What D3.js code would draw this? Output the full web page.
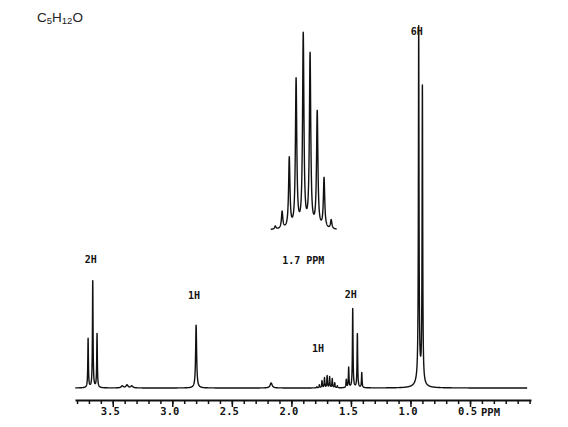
<!DOCTYPE html>
<html>
<head>
<meta charset="utf-8">
<script src="https://cdn.jsdelivr.net/npm/d3@7"></script>
<style>
  body { margin: 0; background: #fff; }
  svg { display: block; }
  .tag { font-family: "DejaVu Sans Mono", monospace; font-weight: bold; font-size: 10px; fill: #111; }
</style>
</head>
<body>
<svg id="chart" width="568" height="427"></svg>
<script>
// peak list: shift (ppm), height above baseline, half width (ppm)
const peakPpm    = [3.707, 3.668, 3.632, 3.42, 3.38, 3.34, 2.80, 2.17,
                    1.786, 1.765, 1.743, 1.722, 1.700, 1.679, 1.657, 1.636, 1.614,
                    1.539, 1.519, 1.485, 1.446, 1.409, 0.931, 0.900, 0.925];
const peakHeight = [49, 107, 54, 2, 3, 2, 63, 5,
                    1, 3, 7, 10, 12, 11, 9, 5, 2,
                    8, 20, 79, 54, 15, 350, 296, 10];
const peakWidth  = [0.003, 0.003, 0.003, 0.01, 0.01, 0.01, 0.005, 0.01,
                    0.003, 0.003, 0.003, 0.003, 0.003, 0.003, 0.003, 0.003, 0.003,
                    0.003, 0.003, 0.003, 0.003, 0.003, 0.003, 0.003, 0.025];

// expanded 1.7 ppm multiplet (inset)
const insetPpm    = [1.786, 1.765, 1.743, 1.722, 1.700, 1.679, 1.657, 1.636, 1.614];
const insetHeight = [3, 17, 70, 148, 193, 173, 116, 50, 9];
const insetWidth  = 0.0025;

// integration labels
const labelText  = ["2H", "1H", "1H", "2H", "6H"];
const labelPpm   = [3.668, 2.80, 1.76, 1.485, 0.931];
const labelLevel = [125, 89, 36, 90, 353];

// axis ticks
const majorTicks  = [3.5, 3.0, 2.5, 2.0, 1.5, 1.0, 0.5];
const majorLabels = ["3.5", "3.0", "2.5", "2.0", "1.5", "1.0", "0.5"];
const minorTicks  = d3.range(0, 39).map(i => i / 10);

const svg = d3.select("#chart");

const x = d3.scaleLinear().domain([3.817, -0.012]).range([75, 531]);
const y = d3.scaleLinear().domain([0, 360]).range([388, 28]);

const xIn = d3.scaleLinear().domain([1.79, 1.59]).range([274, 339]);
const yIn = d3.scaleLinear().domain([0, 200]).range([230, 30]);

// sum of lorentzian lines on a fine ppm grid
function spectrum(ppms, heights, widths, hi, lo, step) {
  let pts = [];
  for (let p = hi; p >= lo; p -= step) {
    let v = 0;
    for (let i = 0; i < ppms.length; i++) {
      let w = Array.isArray(widths) ? widths[i] : widths;
      let d = p - ppms[i];
      v += heights[i] * w * w / (d * d + w * w);
    }
    pts.push([p, v]);
  }
  return pts;
}

const mainData = spectrum(peakPpm, peakHeight, peakWidth, 3.815, 0.02, 0.0004);
const insetData = spectrum(insetPpm, insetHeight, insetWidth, 1.80, 1.597, 0.0003);

svg.append("path")
  .datum(mainData)
  .attr("fill", "none")
  .attr("stroke", "#111")
  .attr("stroke-width", 1.4)
  .attr("stroke-linejoin", "round")
  .attr("d", d3.line().x(d => x(d[0])).y(d => y(d[1])));

svg.append("path")
  .datum(insetData)
  .attr("fill", "none")
  .attr("stroke", "#111")
  .attr("stroke-width", 1.4)
  .attr("stroke-linejoin", "round")
  .attr("d", d3.line().x(d => xIn(d[0])).y(d => yIn(d[1])));

// axis
const axisG = svg.append("g").attr("transform", "translate(0,400)");

axisG.append("g")
  .call(d3.axisBottom(x).tickValues(minorTicks).tickSize(4).tickSizeOuter(0).tickFormat(""))
  .call(g => g.select(".domain").attr("stroke", "#111").attr("stroke-width", 2));

axisG.append("g")
  .call(d3.axisBottom(x).tickValues(majorTicks).tickSize(7).tickPadding(1)
    .tickFormat((d, i) => majorLabels[i]))
  .call(g => g.select(".domain").remove())
  .call(g => g.selectAll(".tick text")
    .attr("class", "tag")
    .attr("dx", -3)
    .style("font-size", "10.5px"));

axisG.selectAll(".tick line").attr("stroke", "#111").attr("stroke-width", 1.5);

svg.append("text")
  .attr("class", "tag")
  .attr("x", x(0.5) + 11)
  .attr("y", 416)
  .style("font-size", "10.5px")
  .text("PPM");

// integration labels
svg.selectAll(".lab")
  .data(labelText)
  .enter().append("text")
  .attr("class", "tag")
  .attr("text-anchor", "middle")
  .attr("x", (d, i) => x(labelPpm[i]) - 2)
  .attr("y", (d, i) => y(labelLevel[i]))
  .text(d => d);

svg.append("text")
  .attr("class", "tag")
  .attr("text-anchor", "middle")
  .attr("x", xIn(1.70))
  .attr("y", 264)
  .text("1.7 PPM");

// formula
const title = svg.append("text")
  .attr("x", 37)
  .attr("y", 22)
  .attr("fill", "#222")
  .style("font-family", "'Liberation Sans', Arial, sans-serif")
  .style("font-size", "13.5px");
title.append("tspan").text("C");
title.append("tspan").attr("dy", 2).style("font-size", "9.5px").text("5");
title.append("tspan").attr("dy", -2).text("H");
title.append("tspan").attr("dy", 2).style("font-size", "9.5px").text("12");
title.append("tspan").attr("dy", -2).text("O");
</script>
</body>
</html>
